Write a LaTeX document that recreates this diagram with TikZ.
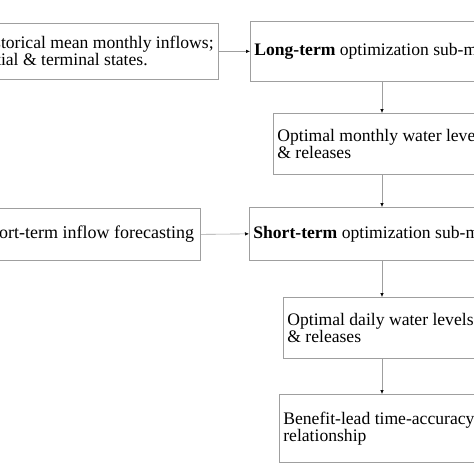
\documentclass[tikz,border=0pt]{standalone}
\usepackage{fontspec}
\setmainfont{Liberation Serif}
\usetikzlibrary{positioning,arrows.meta}
\tikzset{>={Latex[width=3.5pt,length=4pt,color=black]}}
\tikzset{box/.style={draw=gray!75, line width=0.7pt, align=flush left, inner sep=4pt,
    font=\fontsize{17.6}{16}\selectfont},
  inbox/.style={box, anchor=north east},
  subbox/.style={box, anchor=north west, text width=300pt},
  flow/.style={->, draw=gray!75, line width=0.6pt}}

\begin{document}
\begin{tikzpicture}[x=1pt,y=-1pt]
	\useasboundingbox (0,0) rectangle (474,474);
	\clip (0,0) rectangle (474,474);
	\coordinate (spine) at (382,0);
	% inputs
	\node[inbox, inner xsep=5pt, minimum height=56pt] (hist) at (219,23) {Historical mean monthly inflows;\\ Initial \& terminal states.};
	\node[inbox, inner xsep=6.5pt, minimum height=52pt, font=\fontsize{18}{16}\selectfont] (fcst) at (201,208) {Short-term inflow forecasting};
	% sub-models and results
	\node[subbox, minimum height=60pt] (long) at (250,21) {\textbf{Long-term} optimization sub-model};
	\node[subbox, minimum height=61pt] (monthly) at (273,113) {Optimal monthly water levels\\ \& releases};
	\node[subbox, minimum height=53pt] (short) at (249,207) {\textbf{Short-term} optimization sub-model};
	\node[subbox, minimum height=61pt] (daily) at (283,297) {Optimal daily water levels\\ \& releases};
	\node[subbox, minimum height=68pt] (benefit) at (279,394) {Benefit-lead time-accuracy\\ relationship};
	% arrows
	\draw[flow] (hist.east) -- (long.west);
	\draw[flow] (fcst.east) -- (short.west);
	\draw[flow] (long.south -| spine) -- (monthly.north -| spine);
	\draw[flow] (monthly.south -| spine) -- (short.north -| spine);
	\draw[flow] (short.south -| spine) -- (daily.north -| spine);
	\draw[flow] (daily.south -| spine) -- (benefit.north -| spine);
\end{tikzpicture}
\end{document}
